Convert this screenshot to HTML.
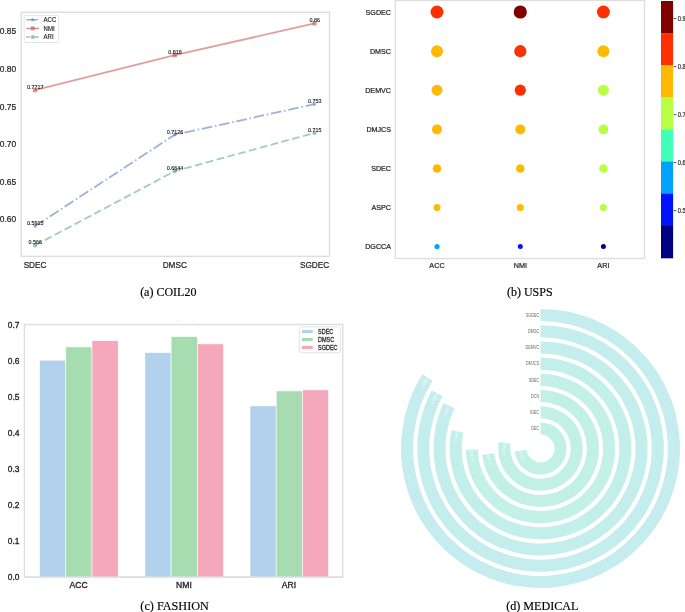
<!DOCTYPE html>
<html><head><meta charset="utf-8"><title>Figure</title>
<style>html,body{margin:0;padding:0;background:#fff}body{width:685px;height:612px;overflow:hidden}</style></head>
<body>
<svg width="685" height="612" viewBox="0 0 685 612" style="display:block">
<defs><clipPath id="all"><rect x="0" y="0" width="685" height="612"/></clipPath></defs>
<rect width="685" height="612" fill="#fff"/>
<g id="pa" font-family="'Liberation Sans', sans-serif">
<rect x="21.2" y="12.3" width="308.3" height="244.0" fill="#fff" stroke="#dedede" stroke-width="1.4"/>
<text transform="translate(16.20,34.17) scale(1,1.12)" font-size="8.4" text-anchor="end" fill="#222" stroke="#222" stroke-width="0.2">0.85</text>
<text transform="translate(16.20,71.83) scale(1,1.12)" font-size="8.4" text-anchor="end" fill="#222" stroke="#222" stroke-width="0.2">0.80</text>
<text transform="translate(16.20,109.50) scale(1,1.12)" font-size="8.4" text-anchor="end" fill="#222" stroke="#222" stroke-width="0.2">0.75</text>
<text transform="translate(16.20,147.16) scale(1,1.12)" font-size="8.4" text-anchor="end" fill="#222" stroke="#222" stroke-width="0.2">0.70</text>
<text transform="translate(16.20,184.83) scale(1,1.12)" font-size="8.4" text-anchor="end" fill="#222" stroke="#222" stroke-width="0.2">0.65</text>
<text transform="translate(16.20,222.49) scale(1,1.12)" font-size="8.4" text-anchor="end" fill="#222" stroke="#222" stroke-width="0.2">0.60</text>
<text transform="translate(35.00,267.80) scale(1,1.12)" font-size="8.2" text-anchor="middle" fill="#222" stroke="#222" stroke-width="0.2">SDEC</text>
<text transform="translate(174.75,267.80) scale(1,1.12)" font-size="8.2" text-anchor="middle" fill="#222" stroke="#222" stroke-width="0.2">DMSC</text>
<text transform="translate(314.50,267.80) scale(1,1.12)" font-size="8.2" text-anchor="middle" fill="#222" stroke="#222" stroke-width="0.2">SGDEC</text>
<polyline points="35.00,226.17 174.75,134.74 314.50,104.23" fill="none" stroke="#4c72b0" stroke-opacity="0.55" stroke-width="1.8" stroke-dasharray="10.6 2.8 1.6 2.7"/>
<polygon points="35.00,223.65 35.62,225.32 37.40,225.39 36.00,226.49 36.48,228.21 35.00,227.22 33.52,228.21 34.00,226.49 32.60,225.39 34.38,225.32" fill="#4c72b0" opacity="0.6"/>
<polygon points="174.75,132.22 175.37,133.89 177.15,133.96 175.75,135.06 176.23,136.78 174.75,135.79 173.27,136.78 173.75,135.06 172.35,133.96 174.13,133.89" fill="#4c72b0" opacity="0.6"/>
<polygon points="314.50,101.71 315.12,103.39 316.90,103.46 315.50,104.56 315.98,106.27 314.50,105.28 313.02,106.27 313.50,104.56 312.10,103.46 313.88,103.39" fill="#4c72b0" opacity="0.6"/>
<polyline points="35.00,90.12 174.75,55.16 314.50,23.45" fill="none" stroke="#c44e52" stroke-opacity="0.55" stroke-width="1.8"/>
<rect x="32.90" y="88.02" width="4.2" height="4.2" fill="#c44e52" opacity="0.6"/>
<rect x="172.65" y="53.06" width="4.2" height="4.2" fill="#c44e52" opacity="0.6"/>
<rect x="312.40" y="21.35" width="4.2" height="4.2" fill="#c44e52" opacity="0.6"/>
<polyline points="35.00,245.42 174.75,171.13 314.50,132.93" fill="none" stroke="#55a868" stroke-opacity="0.55" stroke-width="1.8" stroke-dasharray="7.7 3.5"/>
<circle cx="35.00" cy="245.42" r="2.1" fill="#55a868" opacity="0.6"/>
<circle cx="174.75" cy="171.13" r="2.1" fill="#55a868" opacity="0.6"/>
<circle cx="314.50" cy="132.93" r="2.1" fill="#55a868" opacity="0.6"/>
<text transform="translate(35.30,225.17) scale(1,1.1)" font-size="5.4" text-anchor="middle" fill="#111" stroke="#111" stroke-width="0.1">0.5915</text>
<text transform="translate(175.05,133.74) scale(1,1.1)" font-size="5.4" text-anchor="middle" fill="#111" stroke="#111" stroke-width="0.1">0.7126</text>
<text transform="translate(314.80,103.23) scale(1,1.1)" font-size="5.4" text-anchor="middle" fill="#111" stroke="#111" stroke-width="0.1">0.753</text>
<text transform="translate(35.30,89.12) scale(1,1.1)" font-size="5.4" text-anchor="middle" fill="#111" stroke="#111" stroke-width="0.1">0.7717</text>
<text transform="translate(175.05,54.16) scale(1,1.1)" font-size="5.4" text-anchor="middle" fill="#111" stroke="#111" stroke-width="0.1">0.818</text>
<text transform="translate(314.80,22.45) scale(1,1.1)" font-size="5.4" text-anchor="middle" fill="#111" stroke="#111" stroke-width="0.1">0.86</text>
<text transform="translate(35.30,244.42) scale(1,1.1)" font-size="5.4" text-anchor="middle" fill="#111" stroke="#111" stroke-width="0.1">0.566</text>
<text transform="translate(175.05,170.13) scale(1,1.1)" font-size="5.4" text-anchor="middle" fill="#111" stroke="#111" stroke-width="0.1">0.6644</text>
<text transform="translate(314.80,131.93) scale(1,1.1)" font-size="5.4" text-anchor="middle" fill="#111" stroke="#111" stroke-width="0.1">0.715</text>
<rect x="24.2" y="15.3" width="34.4" height="27.2" rx="1" fill="#fff" stroke="#ddd" stroke-width="0.8"/>
<line x1="26.2" x2="39.2" y1="19.75" y2="19.75" stroke="#4c72b0" stroke-opacity="0.6" stroke-width="1.4" stroke-dasharray="11.6 3"/>
<polygon points="32.70,17.35 33.29,18.94 34.98,19.01 33.65,20.06 34.11,21.69 32.70,20.75 31.29,21.69 31.75,20.06 30.42,19.01 32.11,18.94" fill="#4c72b0" opacity="0.6"/>
<text transform="translate(43.60,22.15) scale(1,1.12)" font-size="6" fill="#222" stroke="#222" stroke-width="0.15">ACC</text>
<line x1="26.2" x2="39.2" y1="28.4" y2="28.4" stroke="#c44e52" stroke-opacity="0.6" stroke-width="1.4"/>
<rect x="30.70" y="26.40" width="4.0" height="4.0" fill="#c44e52" opacity="0.6"/>
<text transform="translate(43.60,30.80) scale(1,1.12)" font-size="6" fill="#222" stroke="#222" stroke-width="0.15">NMI</text>
<line x1="26.2" x2="39.2" y1="37.0" y2="37.0" stroke="#55a868" stroke-opacity="0.6" stroke-width="1.4" stroke-dasharray="3.8 3.8 5 9"/>
<circle cx="32.70" cy="37.00" r="2.0" fill="#55a868" opacity="0.6"/>
<text transform="translate(43.60,39.40) scale(1,1.12)" font-size="6" fill="#222" stroke="#222" stroke-width="0.15">ARI</text>
</g>
<text x="168.3" y="295.6" font-size="12" text-anchor="middle" fill="#000" stroke="#000" stroke-width="0.15" font-family="'Liberation Serif', serif">(a) COIL20</text>
<g id="pb" font-family="'Liberation Sans', sans-serif">
<rect x="395.3" y="0.5" width="249.2" height="258.0" fill="#fff" stroke="#dedede" stroke-width="1.4"/>
<text transform="translate(391.00,14.70) scale(1,1.12)" font-size="7.15" text-anchor="end" fill="#222" stroke="#222" stroke-width="0.2">SGDEC</text>
<circle cx="437.0" cy="12.0" r="6.5" fill="#FF3000"/>
<circle cx="520.3" cy="12.0" r="6.6" fill="#800000"/>
<circle cx="603.4" cy="12.0" r="6.5" fill="#FF3000"/>
<text transform="translate(391.00,53.90) scale(1,1.12)" font-size="7.15" text-anchor="end" fill="#222" stroke="#222" stroke-width="0.2">DMSC</text>
<circle cx="437.0" cy="51.2" r="6.0" fill="#FFB900"/>
<circle cx="520.3" cy="51.2" r="6.1" fill="#FF3000"/>
<circle cx="603.4" cy="51.2" r="6.0" fill="#FFB900"/>
<text transform="translate(391.00,92.90) scale(1,1.12)" font-size="7.15" text-anchor="end" fill="#222" stroke="#222" stroke-width="0.2">DEMVC</text>
<circle cx="437.0" cy="90.2" r="5.5" fill="#FFB900"/>
<circle cx="520.3" cy="90.2" r="5.6" fill="#FF3000"/>
<circle cx="603.4" cy="90.2" r="5.5" fill="#B7FF40"/>
<text transform="translate(391.00,132.10) scale(1,1.12)" font-size="7.15" text-anchor="end" fill="#222" stroke="#222" stroke-width="0.2">DMJCS</text>
<circle cx="437.0" cy="129.4" r="5.0" fill="#FFB900"/>
<circle cx="520.3" cy="129.4" r="5.0" fill="#FFB900"/>
<circle cx="603.4" cy="129.4" r="4.9" fill="#B7FF40"/>
<text transform="translate(391.00,171.20) scale(1,1.12)" font-size="7.15" text-anchor="end" fill="#222" stroke="#222" stroke-width="0.2">SDEC</text>
<circle cx="437.0" cy="168.5" r="4.25" fill="#FFB900"/>
<circle cx="520.3" cy="168.5" r="4.25" fill="#FFB900"/>
<circle cx="603.4" cy="168.5" r="4.25" fill="#B7FF40"/>
<text transform="translate(391.00,210.20) scale(1,1.12)" font-size="7.15" text-anchor="end" fill="#222" stroke="#222" stroke-width="0.2">ASPC</text>
<circle cx="437.0" cy="207.5" r="3.5" fill="#FFB900"/>
<circle cx="520.3" cy="207.5" r="3.5" fill="#FFB900"/>
<circle cx="603.4" cy="207.5" r="3.5" fill="#B7FF40"/>
<text transform="translate(391.00,249.20) scale(1,1.12)" font-size="7.15" text-anchor="end" fill="#222" stroke="#222" stroke-width="0.2">DGCCA</text>
<circle cx="437.0" cy="246.5" r="2.6" fill="#00A4FF"/>
<circle cx="520.3" cy="246.5" r="2.5" fill="#0012FF"/>
<circle cx="603.4" cy="246.5" r="2.5" fill="#000080"/>
<text transform="translate(437.00,268.20) scale(1,1.12)" font-size="7.25" text-anchor="middle" fill="#222" stroke="#222" stroke-width="0.2">ACC</text>
<text transform="translate(520.30,268.20) scale(1,1.12)" font-size="7.25" text-anchor="middle" fill="#222" stroke="#222" stroke-width="0.2">NMI</text>
<text transform="translate(603.40,268.20) scale(1,1.12)" font-size="7.25" text-anchor="middle" fill="#222" stroke="#222" stroke-width="0.2">ARI</text>
<rect x="661.0" y="1.00" width="12.10" height="32.42" fill="#800000"/>
<rect x="661.0" y="33.12" width="12.10" height="32.42" fill="#FF3000"/>
<rect x="661.0" y="65.25" width="12.10" height="32.42" fill="#FFB900"/>
<rect x="661.0" y="97.38" width="12.10" height="32.42" fill="#B7FF40"/>
<rect x="661.0" y="129.50" width="12.10" height="32.42" fill="#40FFB7"/>
<rect x="661.0" y="161.62" width="12.10" height="32.42" fill="#00A4FF"/>
<rect x="661.0" y="193.75" width="12.10" height="32.42" fill="#0012FF"/>
<rect x="661.0" y="225.88" width="12.10" height="32.42" fill="#000080"/>
<line x1="673.6" x2="676.4" y1="18.6" y2="18.6" stroke="#222" stroke-width="0.8"/>
<text transform="translate(677.80,20.80) scale(1,1.1)" font-size="5.8" fill="#222" stroke="#222" stroke-width="0.15">0.9</text>
<line x1="673.6" x2="676.4" y1="66.7" y2="66.7" stroke="#222" stroke-width="0.8"/>
<text transform="translate(677.80,68.90) scale(1,1.1)" font-size="5.8" fill="#222" stroke="#222" stroke-width="0.15">0.8</text>
<line x1="673.6" x2="676.4" y1="114.7" y2="114.7" stroke="#222" stroke-width="0.8"/>
<text transform="translate(677.80,116.90) scale(1,1.1)" font-size="5.8" fill="#222" stroke="#222" stroke-width="0.15">0.7</text>
<line x1="673.6" x2="676.4" y1="162.6" y2="162.6" stroke="#222" stroke-width="0.8"/>
<text transform="translate(677.80,164.80) scale(1,1.1)" font-size="5.8" fill="#222" stroke="#222" stroke-width="0.15">0.6</text>
<line x1="673.6" x2="676.4" y1="210.7" y2="210.7" stroke="#222" stroke-width="0.8"/>
<text transform="translate(677.80,212.90) scale(1,1.1)" font-size="5.8" fill="#222" stroke="#222" stroke-width="0.15">0.5</text>
</g>
<text x="529.8" y="295.7" font-size="12" text-anchor="middle" fill="#000" stroke="#000" stroke-width="0.15" font-family="'Liberation Serif', serif">(b) USPS</text>
<g id="pc" font-family="'Liberation Sans', sans-serif">
<rect x="24.4" y="324.5" width="318.3" height="252.60000000000002" fill="#fff" stroke="#dedede" stroke-width="1.4"/>
<text transform="translate(19.50,579.90) scale(1,1.12)" font-size="8.4" text-anchor="end" fill="#222" stroke="#222" stroke-width="0.3">0.0</text>
<text transform="translate(19.50,543.94) scale(1,1.12)" font-size="8.4" text-anchor="end" fill="#222" stroke="#222" stroke-width="0.3">0.1</text>
<text transform="translate(19.50,507.98) scale(1,1.12)" font-size="8.4" text-anchor="end" fill="#222" stroke="#222" stroke-width="0.3">0.2</text>
<text transform="translate(19.50,472.02) scale(1,1.12)" font-size="8.4" text-anchor="end" fill="#222" stroke="#222" stroke-width="0.3">0.3</text>
<text transform="translate(19.50,436.06) scale(1,1.12)" font-size="8.4" text-anchor="end" fill="#222" stroke="#222" stroke-width="0.3">0.4</text>
<text transform="translate(19.50,400.10) scale(1,1.12)" font-size="8.4" text-anchor="end" fill="#222" stroke="#222" stroke-width="0.3">0.5</text>
<text transform="translate(19.50,364.14) scale(1,1.12)" font-size="8.4" text-anchor="end" fill="#222" stroke="#222" stroke-width="0.3">0.6</text>
<text transform="translate(19.50,328.18) scale(1,1.12)" font-size="8.4" text-anchor="end" fill="#222" stroke="#222" stroke-width="0.3">0.7</text>
<rect x="39.60" y="360.20" width="26.2" height="216.90" fill="#B2D1EC" stroke="#fff" stroke-width="0.6"/>
<rect x="65.80" y="346.90" width="26.2" height="230.20" fill="#A7DCB0" stroke="#fff" stroke-width="0.6"/>
<rect x="92.00" y="340.65" width="26.2" height="236.45" fill="#F5A8BC" stroke="#fff" stroke-width="0.6"/>
<text transform="translate(78.60,588.30) scale(1,1.12)" font-size="8.6" text-anchor="middle" fill="#222" stroke="#222" stroke-width="0.3">ACC</text>
<rect x="144.90" y="352.70" width="26.2" height="224.40" fill="#B2D1EC" stroke="#fff" stroke-width="0.6"/>
<rect x="171.10" y="336.60" width="26.2" height="240.50" fill="#A7DCB0" stroke="#fff" stroke-width="0.6"/>
<rect x="197.30" y="343.90" width="26.2" height="233.20" fill="#F5A8BC" stroke="#fff" stroke-width="0.6"/>
<text transform="translate(183.90,588.30) scale(1,1.12)" font-size="8.6" text-anchor="middle" fill="#222" stroke="#222" stroke-width="0.3">NMI</text>
<rect x="250.00" y="405.90" width="26.2" height="171.20" fill="#B2D1EC" stroke="#fff" stroke-width="0.6"/>
<rect x="276.20" y="390.90" width="26.2" height="186.20" fill="#A7DCB0" stroke="#fff" stroke-width="0.6"/>
<rect x="302.40" y="389.90" width="26.2" height="187.20" fill="#F5A8BC" stroke="#fff" stroke-width="0.6"/>
<text transform="translate(289.00,588.30) scale(1,1.12)" font-size="8.6" text-anchor="middle" fill="#222" stroke="#222" stroke-width="0.3">ARI</text>
<line x1="24.4" x2="342.7" y1="577.1" y2="577.1" stroke="#dedede" stroke-width="1.4"/>
<rect x="177.9" y="320.8" width="1" height="0.8" fill="#c8c8c8"/><rect x="192.7" y="320.8" width="1" height="0.8" fill="#d0d0d0"/>
<rect x="299.4" y="326.9" width="40.9" height="25.8" rx="1" fill="#fff" stroke="#ddd" stroke-width="0.8"/>
<rect x="301.9" y="330.00" width="10.8" height="3.2" fill="#B2D1EC"/>
<text transform="translate(318.00,333.70) scale(1,1.25)" font-size="5.5" fill="#222" stroke="#222" stroke-width="0.2">SDEC</text>
<rect x="301.9" y="337.90" width="10.8" height="3.2" fill="#A7DCB0"/>
<text transform="translate(318.00,341.60) scale(1,1.25)" font-size="5.5" fill="#222" stroke="#222" stroke-width="0.2">DMSC</text>
<rect x="301.9" y="345.90" width="10.8" height="3.2" fill="#F5A8BC"/>
<text transform="translate(318.00,349.60) scale(1,1.25)" font-size="5.5" fill="#222" stroke="#222" stroke-width="0.2">SGDEC</text>
</g>
<text x="174.6" y="609.7" font-size="12.2" text-anchor="middle" fill="#000" stroke="#000" stroke-width="0.15" font-family="'Liberation Serif', serif">(c) FASHION</text>
<g id="pd" font-family="'Liberation Sans', sans-serif">
<path d="M540.50,309.00 A139.50,139.50 0 1 1 422.39,374.27 L432.63,380.71 A127.40,127.40 0 1 0 540.50,321.10 Z" fill="#C5ECEF"/>
<text transform="translate(539.20,316.75) scale(1,1.25)" font-size="3.8" text-anchor="end" fill="#666">SGDEC</text>
<text transform="translate(424.34,382.81) rotate(299.49)" font-size="3.5" text-anchor="middle" fill="#fff" fill-opacity="0.9" y="1.2">0.8393</text>
<path d="M540.50,325.20 A123.30,123.30 0 1 1 431.75,390.39 L442.42,396.10 A111.20,111.20 0 1 0 540.50,337.30 Z" fill="#C4EDEE"/>
<text transform="translate(539.20,332.95) scale(1,1.25)" font-size="3.8" text-anchor="end" fill="#666">DMSC</text>
<text transform="translate(434.31,398.79) rotate(295.09)" font-size="3.5" text-anchor="middle" fill="#fff" fill-opacity="0.9" y="1.2">0.8281</text>
<path d="M540.50,341.40 A107.10,107.10 0 1 1 443.51,403.08 L454.47,408.21 A95.00,95.00 0 1 0 540.50,353.50 Z" fill="#C4EEEC"/>
<text transform="translate(539.20,349.15) scale(1,1.25)" font-size="3.8" text-anchor="end" fill="#666">DEMVC</text>
<text transform="translate(446.53,411.34) rotate(291.58)" font-size="3.5" text-anchor="middle" fill="#fff" fill-opacity="0.9" y="1.2">0.8197</text>
<path d="M540.50,357.60 A90.90,90.90 0 1 1 451.44,430.29 L463.30,432.71 A78.80,78.80 0 1 0 540.50,369.70 Z" fill="#C3EFEA"/>
<text transform="translate(539.20,365.35) scale(1,1.25)" font-size="3.8" text-anchor="end" fill="#666">DMJCS</text>
<text transform="translate(456.35,437.62) rotate(277.37)" font-size="3.5" text-anchor="middle" fill="#fff" fill-opacity="0.9" y="1.2">0.7821</text>
<path d="M540.50,373.80 A74.70,74.70 0 1 1 465.81,449.81 L477.91,449.60 A62.60,62.60 0 1 0 540.50,385.90 Z" fill="#C3F0E7"/>
<text transform="translate(539.20,381.55) scale(1,1.25)" font-size="3.8" text-anchor="end" fill="#666">SDEC</text>
<text transform="translate(472.25,455.89) rotate(263.82)" font-size="3.5" text-anchor="middle" fill="#fff" fill-opacity="0.9" y="1.2">0.7472</text>
<path d="M540.50,390.00 A58.50,58.50 0 1 1 482.32,454.63 L494.36,453.36 A46.40,46.40 0 1 0 540.50,402.10 Z" fill="#C2F1E4"/>
<text transform="translate(539.20,397.75) scale(1,1.25)" font-size="3.8" text-anchor="end" fill="#666">DCN</text>
<text transform="translate(489.35,460.11) rotate(257.22)" font-size="3.5" text-anchor="middle" fill="#fff" fill-opacity="0.9" y="1.2">0.7333</text>
<path d="M540.50,406.20 A42.30,42.30 0 1 1 498.69,442.07 L510.65,443.91 A30.20,30.20 0 1 0 540.50,418.30 Z" fill="#C3F0E6"/>
<text transform="translate(539.20,413.95) scale(1,1.25)" font-size="3.8" text-anchor="end" fill="#666">IDEC</text>
<text transform="translate(504.26,449.17) rotate(268.95)" font-size="3.5" text-anchor="middle" fill="#fff" fill-opacity="0.9" y="1.2">0.7743</text>
<path d="M540.50,422.40 A26.10,26.10 0 1 1 514.57,451.49 L526.59,450.11 A14.00,14.00 0 1 0 540.50,434.50 Z" fill="#C2F1E3"/>
<text transform="translate(539.20,430.15) scale(1,1.25)" font-size="3.8" text-anchor="end" fill="#666">DEC</text>
<text transform="translate(522.23,456.75) rotate(245.69)" font-size="3.5" text-anchor="middle" fill="#fff" fill-opacity="0.9" y="1.2">0.7317</text>
</g>
<text x="542.3" y="609.7" font-size="12.1" text-anchor="middle" fill="#000" stroke="#000" stroke-width="0.15" font-family="'Liberation Serif', serif">(d) MEDICAL</text>
</svg>
</body></html>
